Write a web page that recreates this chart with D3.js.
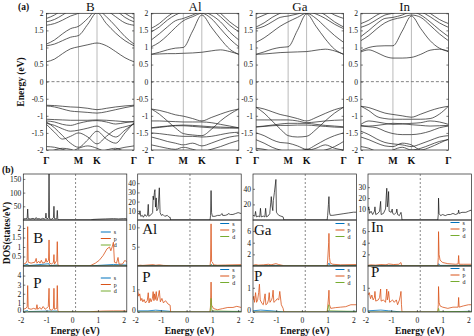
<!DOCTYPE html>
<html><head><meta charset="utf-8">
<script src="https://cdn.jsdelivr.net/npm/d3@7"></script>
<style>
body{margin:0;background:#fff}
svg{display:block}
text{font-family:"Liberation Serif","Times New Roman",serif;fill:#111}
</style>
</head><body>
<svg id="c" width="474" height="336"></svg>
<script>
// ---------------- DATA ----------------
const kPath = [0, 0.25, 0.5, 0.75, 1.0, 1.29, 1.577, 1.87, 2.16, 2.45, 2.732];
const kLabels = ["Γ", "M", "K", "Γ"];
const kLabelPos = [0, 1.0, 1.577, 2.732];
const materials = ["B", "Al", "Ga", "In"];
const bandTicks = [2, 1.5, 1, 0.5, 0, -0.5, -1, -1.5, -2];
const dosXTicks = [-2, -1, 0, 1, 2];
const fermiDOS = 0.13;

const bandsB = [
  [0.58, 0.66, 0.82, 0.96, 1.02, 1.08, 1.13, 1.05, 0.88, 0.70, 0.58],
  [1.05, 1.10, 1.20, 1.30, 1.35, 1.68, 2.02, 1.70, 1.42, 1.20, 1.05],
  [1.10, 1.22, 1.40, 1.55, 1.62, 1.85, 2.10, 1.90, 1.62, 1.32, 1.10],
  [1.65, 1.70, 1.80, 1.92, 2.00, 2.15, 2.30, 2.10, 1.90, 1.72, 1.65],
  [1.75, 1.82, 1.95, 2.10, 2.20, 2.30, 2.40, 2.30, 2.10, 1.88, 1.75],
  [1.85, 1.95, 2.10, 2.20, 2.30, 2.40, 2.50, 2.40, 2.20, 2.00, 1.85],
  [-0.69, -0.70, -0.72, -0.74, -0.75, -0.78, -0.82, -0.78, -0.74, -0.71, -0.69],
  [-0.71, -0.74, -0.80, -0.86, -0.88, -0.90, -0.92, -0.88, -0.82, -0.76, -0.71],
  [-1.10, -1.11, -1.12, -1.13, -1.13, -1.13, -1.12, -1.13, -1.15, -1.17, -1.18],
  [-1.15, -1.18, -1.25, -1.28, -1.22, -1.16, -1.14, -1.18, -1.24, -1.20, -1.16],
  [-1.18, -1.35, -1.58, -1.80, -1.92, -1.70, -1.45, -1.68, -1.80, -1.50, -1.20],
  [-1.22, -1.28, -1.38, -1.45, -1.42, -1.36, -1.30, -1.48, -1.62, -1.42, -1.22],
  [-1.25, -1.48, -1.68, -1.60, -1.50, -1.62, -1.82, -1.60, -1.40, -1.32, -1.25],
  [-1.90, -1.92, -1.98, -2.05, -1.95, -1.88, -1.95, -2.05, -1.98, -1.92, -1.88],
  [-2.10, -2.00, -1.95, -1.98, -2.10, -2.20, -2.10, -2.00, -1.95, -2.05, -2.10]
];
const bandsAl = [
  [0.80, 0.81, 0.82, 0.82, 0.83, 0.84, 0.86, 0.90, 0.93, 0.88, 0.80],
  [0.80, 0.86, 0.93, 0.98, 1.00, 1.48, 1.95, 1.60, 1.25, 0.95, 0.80],
  [1.02, 1.15, 1.35, 1.58, 1.78, 1.90, 2.00, 1.85, 1.55, 1.25, 1.02],
  [1.22, 1.40, 1.60, 1.78, 1.85, 1.95, 2.05, 1.95, 1.75, 1.45, 1.22],
  [1.46, 1.60, 1.80, 1.95, 2.05, 2.15, 2.20, 2.10, 1.90, 1.65, 1.46],
  [1.56, 1.70, 1.90, 2.05, 2.15, 2.20, 2.30, 2.20, 2.00, 1.75, 1.56],
  [-0.80, -0.84, -0.90, -0.97, -1.01, -1.08, -1.15, -1.05, -0.95, -0.86, -0.80],
  [-0.80, -0.95, -1.15, -1.35, -1.52, -1.56, -1.58, -1.40, -1.15, -0.95, -0.80],
  [-1.15, -1.15, -1.16, -1.17, -1.18, -1.18, -1.18, -1.20, -1.25, -1.30, -1.35],
  [-1.35, -1.32, -1.30, -1.28, -1.27, -1.28, -1.30, -1.32, -1.33, -1.34, -1.35],
  [-1.36, -1.34, -1.31, -1.29, -1.29, -1.31, -1.33, -1.35, -1.36, -1.36, -1.36],
  [-1.50, -1.52, -1.55, -1.58, -1.60, -1.60, -1.62, -1.60, -1.55, -1.50, -1.48],
  [-1.62, -1.68, -1.75, -1.80, -1.85, -1.80, -1.88, -1.80, -1.70, -1.62, -1.58],
  [-1.85, -1.90, -1.95, -1.98, -1.92, -1.98, -2.05, -1.98, -1.90, -1.80, -1.72]
];
const bandsGa = [
  [0.80, 0.81, 0.83, 0.85, 0.86, 0.87, 0.88, 0.92, 0.95, 0.90, 0.80],
  [0.80, 0.87, 0.95, 1.00, 1.02, 1.50, 1.98, 1.62, 1.25, 0.95, 0.80],
  [1.15, 1.28, 1.45, 1.62, 1.75, 1.88, 2.00, 1.85, 1.60, 1.35, 1.15],
  [1.55, 1.62, 1.75, 1.88, 1.92, 1.98, 2.05, 1.98, 1.85, 1.68, 1.55],
  [1.60, 1.72, 1.88, 2.00, 2.10, 2.15, 2.20, 2.10, 1.95, 1.75, 1.60],
  [1.85, 1.95, 2.05, 2.15, 2.20, 2.25, 2.30, 2.20, 2.10, 1.95, 1.85],
  [-0.75, -0.80, -0.88, -0.96, -1.01, -1.08, -1.15, -1.05, -0.93, -0.82, -0.75],
  [-0.75, -0.92, -1.15, -1.38, -1.58, -1.62, -1.60, -1.40, -1.15, -0.92, -0.75],
  [-1.12, -1.12, -1.12, -1.12, -1.12, -1.15, -1.20, -1.18, -1.15, -1.13, -1.12],
  [-1.32, -1.30, -1.27, -1.24, -1.22, -1.22, -1.22, -1.25, -1.28, -1.30, -1.32],
  [-1.33, -1.31, -1.29, -1.28, -1.28, -1.27, -1.27, -1.29, -1.31, -1.33, -1.34],
  [-1.50, -1.58, -1.70, -1.78, -1.80, -1.88, -1.98, -1.85, -1.70, -1.58, -1.50],
  [-1.70, -1.80, -1.92, -2.00, -2.05, -2.05, -1.98, -2.05, -2.00, -1.90, -1.75],
  [-1.95, -1.98, -2.05, -2.10, -2.10, -2.05, -2.02, -1.95, -1.85, -1.95, -2.00]
];
const bandsIn = [
  [0.87, 0.93, 0.85, 0.74, 0.69, 0.69, 0.71, 0.80, 0.92, 0.95, 0.87],
  [0.90, 1.00, 1.04, 1.05, 1.05, 1.48, 1.92, 1.55, 1.20, 0.98, 0.90],
  [1.20, 1.35, 1.55, 1.72, 1.82, 1.88, 1.95, 1.88, 1.65, 1.40, 1.20],
  [1.32, 1.50, 1.70, 1.85, 1.88, 1.95, 2.05, 1.95, 1.75, 1.52, 1.32],
  [1.59, 1.68, 1.82, 1.95, 2.00, 2.10, 2.15, 2.05, 1.90, 1.72, 1.59],
  [1.70, 1.80, 1.95, 2.05, 2.10, 2.20, 2.25, 2.15, 2.00, 1.82, 1.70],
  [-0.72, -0.76, -0.84, -0.92, -0.96, -1.00, -1.04, -0.95, -0.85, -0.77, -0.72],
  [-0.72, -0.85, -1.02, -1.08, -1.10, -1.10, -1.10, -1.10, -1.08, -0.95, -0.72],
  [-1.25, -1.15, -1.18, -1.22, -1.25, -1.24, -1.22, -1.20, -1.15, -1.18, -1.25],
  [-1.28, -1.30, -1.28, -1.25, -1.22, -1.23, -1.26, -1.28, -1.30, -1.29, -1.28],
  [-1.30, -1.32, -1.35, -1.45, -1.52, -1.55, -1.55, -1.52, -1.45, -1.35, -1.30],
  [-1.45, -1.55, -1.68, -1.78, -1.82, -1.85, -1.90, -1.82, -1.72, -1.62, -1.58],
  [-1.62, -1.70, -1.80, -1.88, -1.90, -1.80, -1.85, -2.00, -1.92, -1.80, -1.68],
  [-1.90, -1.95, -2.05, -2.10, -2.00, -1.92, -2.00, -1.95, -1.85, -1.75, -1.70]
];

// DOS: [energy (eV), states/eV]
const dosTotB = [[-1.9,4],[-1.82,5],[-1.75,6],[-1.73,40],[-1.71,5],[-1.62,4],[-1.52,6],[-1.45,3],[-1.4,9],[-1.37,4],[-1.28,5],[-1.22,3],[-1.15,6],[-1.08,4],[-1.04,7],[-1.02,25],[-1.0,6],[-0.94,5],[-0.92,8],[-0.9,170],[-0.88,4],[-0.8,3],[-0.73,8],[-0.71,50],[-0.69,5],[-0.62,4],[-0.6,8],[-0.58,35],[-0.56,3],[-0.52,0],[0.72,0],[0.8,2],[1.0,3],[1.3,4],[1.6,5],[1.8,4],[2.0,5],[2.12,5]];
const dosBs = [[-1.9,0.02],[-1.73,0.1],[-1.7,0.02],[-0.9,0.12],[-0.88,0.02],[-0.58,0.05],[-0.52,0],[0.7,0],[1.0,0.03],[1.6,0.08],[2.12,0.05]];
const dosBp = [[-1.9,0.1],[-1.8,0.15],[-1.75,0.3],[-1.73,2.07],[-1.71,0.2],[-1.6,0.15],[-1.45,0.2],[-1.4,0.4],[-1.37,0.15],[-1.3,0.25],[-1.25,0.15],[-1.2,0.3],[-1.15,0.15],[-1.05,0.2],[-1.02,0.4],[-0.98,0.2],[-0.92,0.3],[-0.9,1.37],[-0.88,0.15],[-0.8,0.1],[-0.73,0.2],[-0.71,0.6],[-0.69,0.1],[-0.6,0.3],[-0.58,1.28],[-0.56,0.1],[-0.52,0],[0.66,0],[0.75,0.05],[0.9,0.15],[1.05,0.3],[1.2,0.55],[1.35,0.9],[1.45,1.0],[1.5,0.8],[1.55,1.0],[1.6,1.25],[1.64,0.2],[1.72,0.15],[1.78,0.45],[1.82,0.1],[1.95,0.1],[2.05,0.3],[2.12,0.2]];
const dosBd = [[-1.9,0.005],[2.12,0.005]];
const dosPsB = [[-1.9,0.05],[-1.73,0.15],[-1.7,0.05],[-0.9,0.1],[-0.58,0.1],[-0.52,0],[0.7,0],[2.12,0.02]];
const dosPpB = [[-1.9,0.3],[-1.8,0.4],[-1.75,0.6],[-1.73,2.9],[-1.71,0.4],[-1.6,0.3],[-1.5,0.4],[-1.4,0.3],[-1.37,0.8],[-1.34,0.3],[-1.25,0.5],[-1.2,0.3],[-1.13,0.6],[-1.05,0.3],[-1.0,0.4],[-0.93,0.6],[-0.9,2.6],[-0.88,0.3],[-0.8,0.2],[-0.73,0.4],[-0.71,2.6],[-0.69,0.3],[-0.6,0.4],[-0.58,2.9],[-0.56,0.2],[-0.52,0],[0.66,0],[0.8,0.05],[1.2,0.1],[1.6,0.12],[2.0,0.12],[2.12,0.1]];
const dosPdB = [[-1.9,0.01],[2.12,0.01]];

const dosTotAl = [[-1.9,8],[-1.84,6],[-1.81,10],[-1.78,4],[-1.72,5],[-1.68,3],[-1.62,6],[-1.57,4],[-1.52,5],[-1.49,17],[-1.47,4],[-1.42,5],[-1.37,6],[-1.32,8],[-1.3,26],[-1.28,22],[-1.25,30],[-1.23,33],[-1.21,14],[-1.18,24],[-1.16,10],[-1.11,12],[-1.06,35],[-1.03,8],[-0.98,5],[-0.92,6],[-0.85,4],[-0.75,5],[-0.68,3],[-0.64,3],[-0.62,0],[0.91,0],[0.93,5],[0.95,32],[0.97,8],[1.0,4],[1.1,4],[1.2,5],[1.3,5],[1.38,7],[1.4,5],[1.5,5],[1.6,6],[1.62,7],[1.7,6],[1.8,6],[1.9,7],[2.0,8],[2.12,7]];
const dosAls = [[-1.9,0.02],[-1.3,0.1],[-0.62,0],[0.92,0],[0.95,0.4],[1.0,0.1],[2.12,0.1]];
const dosAlp = [[-1.9,0.1],[-1.8,0.2],[-1.7,0.15],[-1.5,0.25],[-1.3,0.35],[-1.2,0.2],[-1.06,0.3],[-0.9,0.15],[-0.7,0.1],[-0.62,0],[0.91,0],[0.93,1.5],[0.95,10.9],[0.97,1.2],[1.0,1.0],[1.05,0.3],[1.2,0.2],[1.5,0.25],[1.8,0.3],[2.12,0.35]];
const dosAld = [[-1.9,0],[0.92,0],[0.95,0.3],[1.0,0.05],[2.12,0.05]];
const dosPsAl = [[-1.9,0.05],[-1.5,0.05],[-1.2,0.08],[-0.64,0.03],[-0.62,0],[0.92,0],[2.12,0.03]];
const dosPpAl = [[-1.9,0.95],[-1.86,0.7],[-1.82,0.8],[-1.78,0.5],[-1.74,0.6],[-1.7,0.45],[-1.65,0.55],[-1.6,0.4],[-1.53,0.5],[-1.49,0.85],[-1.46,0.4],[-1.42,0.6],[-1.38,0.45],[-1.33,0.6],[-1.3,0.9],[-1.27,0.5],[-1.25,0.8],[-1.22,0.55],[-1.18,0.9],[-1.15,0.5],[-1.1,0.7],[-1.06,0.95],[-1.02,0.45],[-0.96,0.6],[-0.9,0.4],[-0.82,0.5],[-0.72,0.35],[-0.64,0.3],[-0.62,0],[0.91,0],[0.93,0.3],[0.95,1.32],[0.97,0.3],[1.05,0.15],[1.2,0.1],[1.4,0.15],[1.6,0.2],[1.8,0.2],[1.95,0.25],[2.12,0.2]];
const dosPdAl = [[-1.9,0],[0.91,0],[0.93,0.2],[0.95,0.6],[0.98,0.05],[2.12,0.02]];

const dosTotGa = [[-1.9,6],[-1.83,5],[-1.8,11],[-1.77,4],[-1.7,5],[-1.64,4],[-1.61,15],[-1.58,4],[-1.5,5],[-1.44,4],[-1.41,15],[-1.38,4],[-1.32,5],[-1.25,8],[-1.21,22],[-1.19,30],[-1.16,18],[-1.13,12],[-1.11,25],[-1.07,35],[-1.01,52],[-0.99,10],[-0.95,8],[-0.9,6],[-0.82,5],[-0.73,4],[-0.7,0],[0.98,0],[1.0,6],[1.03,20],[1.05,30],[1.07,10],[1.1,6],[1.2,6],[1.4,7],[1.6,8],[1.8,9],[2.0,10],[2.12,10]];
const dosGas = [[-1.9,0.02],[-1.01,0.1],[-0.7,0],[0.98,0],[1.05,0.5],[1.1,0.1],[2.12,0.1]];
const dosGap = [[-1.9,0.1],[-1.8,0.25],[-1.7,0.15],[-1.5,0.2],[-1.3,0.3],[-1.2,0.2],[-1.01,0.4],[-0.9,0.25],[-0.75,0.1],[-0.7,0],[0.98,0],[1.0,1.0],[1.04,4.0],[1.05,5.6],[1.07,1.5],[1.1,0.5],[1.2,0.3],[1.5,0.2],[2.12,0.25]];
const dosGad = [[-1.9,0],[2.12,0.02]];
const dosPsGa = [[-1.9,0.05],[-1.6,0.08],[-1.2,0.05],[-0.7,0],[0.98,0],[2.12,0.03]];
const dosPpGa = [[-1.9,0.5],[-1.87,0.65],[-1.84,0.4],[-1.8,0.8],[-1.76,0.4],[-1.72,0.5],[-1.68,0.8],[-1.65,1.15],[-1.62,0.5],[-1.55,0.35],[-1.5,0.3],[-1.43,0.75],[-1.4,0.3],[-1.34,0.35],[-1.3,0.5],[-1.27,0.8],[-1.24,0.4],[-1.18,0.5],[-1.15,0.6],[-1.12,0.9],[-1.09,0.4],[-1.03,0.45],[-0.96,0.55],[-0.9,0.5],[-0.86,0.85],[-0.8,0.3],[-0.73,0.15],[-0.7,0],[0.98,0],[1.0,0.2],[1.04,0.7],[1.05,0.9],[1.07,0.3],[1.12,0.15],[1.3,0.18],[1.5,0.2],[1.7,0.22],[1.9,0.3],[2.12,0.3]];
const dosPdGa = [[-1.9,0],[0.98,0],[1.04,0.3],[1.07,0.05],[2.12,0.02]];

const dosTotIn = [[-1.9,10],[-1.87,12],[-1.84,6],[-1.78,8],[-1.72,5],[-1.65,8],[-1.63,12],[-1.6,5],[-1.52,6],[-1.45,8],[-1.41,17],[-1.39,5],[-1.3,6],[-1.22,10],[-1.19,22],[-1.17,29],[-1.15,12],[-1.12,18],[-1.1,26],[-1.08,8],[-1.0,7],[-0.96,10],[-0.94,6],[-0.88,5],[-0.8,7],[-0.78,10],[-0.75,5],[-0.68,4],[-0.62,7],[-0.6,5],[-0.58,0],[0.81,0],[0.83,5],[0.84,20],[0.86,6],[0.92,4],[1.0,5],[1.1,4],[1.2,5],[1.3,5],[1.4,6],[1.5,5],[1.6,6],[1.62,9],[1.64,6],[1.75,7],[1.9,7],[2.0,8],[2.1,9],[2.12,8]];
const dosIns = [[-1.9,0.02],[-1.17,0.1],[-0.58,0],[0.81,0],[0.84,0.4],[0.9,0.1],[2.12,0.1]];
const dosInp = [[-1.9,0.1],[-1.8,0.2],[-1.6,0.15],[-1.4,0.25],[-1.2,0.2],[-1.1,0.35],[-0.9,0.25],[-0.7,0.3],[-0.62,0.6],[-0.6,0.2],[-0.58,0],[0.81,0],[0.83,1.5],[0.84,5.9],[0.86,2.0],[0.9,1.0],[1.0,0.6],[1.2,0.4],[1.5,0.3],[1.6,0.35],[1.62,1.8],[1.64,0.3],[1.8,0.3],[2.12,0.3]];
const dosInd = [[-1.9,0],[2.12,0.02]];
const dosPsIn = [[-1.9,0.05],[-1.4,0.08],[-1.1,0.05],[-0.58,0],[0.81,0],[2.12,0.03]];
const dosPpIn = [[-1.9,0.7],[-1.85,0.8],[-1.8,0.55],[-1.75,0.7],[-1.7,0.5],[-1.65,0.6],[-1.63,0.85],[-1.6,0.45],[-1.5,0.5],[-1.45,0.6],[-1.41,0.95],[-1.39,0.45],[-1.3,0.5],[-1.22,0.4],[-1.19,0.7],[-1.17,0.95],[-1.15,0.5],[-1.12,0.65],[-1.1,0.85],[-1.06,0.4],[-1.0,0.45],[-0.95,0.5],[-0.88,0.4],[-0.8,0.5],[-0.75,0.3],[-0.68,0.5],[-0.64,0.7],[-0.62,0.85],[-0.6,0.3],[-0.58,0],[0.81,0],[0.83,0.3],[0.84,1.05],[0.86,0.4],[0.9,0.25],[1.0,0.2],[1.2,0.15],[1.4,0.2],[1.6,0.2],[1.62,0.6],[1.64,0.2],[1.8,0.25],[2.0,0.3],[2.12,0.3]];
const dosPdIn = [[-1.9,0],[0.81,0],[0.84,0.15],[0.87,0.02],[2.12,0.02]];

const dosYMax = [[168, 2.42, 5.05], [50, 11.9, 2.03], [59, 7.9, 1.9], [42, 7.9, 1.9]];
const dosYTicks = [
  [[50, 100, 150], [0.5, 1, 1.5, 2], [0, 1, 2, 3, 4]],
  [[10, 20, 30, 40], [5, 10], [0, 1]],
  [[20, 40], [2, 4, 6], [0, 1]],
  [[10, 20, 30], [2, 4, 6], [0, 1]]
];
const orbitals = ["s", "p", "d"];
const orbColors = ["#0072BD", "#D95319", "#77AC30"];

// ---------------- LAYOUT ----------------
const svg = d3.select("#c");
const bandSets = [bandsB, bandsAl, bandsGa, bandsIn];
const bandL0 = 46.5, bandStep = 104.8, bandW = 87.5, bandTop = 13.3, bandBot = 150;

svg.append("text").attr("x", 18).attr("y", 10).attr("font-size", 9.5).attr("font-weight", "bold").text("(a)");
svg.append("text").attr("x", 2).attr("y", 173).attr("font-size", 9.5).attr("font-weight", "bold").text("(b)");
svg.append("text").attr("transform", "translate(24,82) rotate(-90)").attr("text-anchor", "middle")
  .attr("font-size", 9.5).attr("font-weight", "bold").text("Energy (eV)");
svg.append("text").attr("transform", "translate(10,233) rotate(-90)").attr("text-anchor", "middle")
  .attr("font-size", 9.5).attr("font-weight", "bold").text("DOS(states/eV)");

materials.forEach((m, i) => {
  const L = bandL0 + i * bandStep;
  const x = d3.scaleLinear().domain([0, 2.732]).range([L, L + bandW]);
  const y = d3.scaleLinear().domain([-2, 2]).range([bandBot, bandTop]);
  const g = svg.append("g");
  const cid = "bc" + i;
  svg.append("clipPath").attr("id", cid).append("rect")
    .attr("x", L).attr("y", bandTop).attr("width", bandW).attr("height", bandBot - bandTop);
  [kLabelPos[1], kLabelPos[2]].forEach(k => g.append("line")
    .attr("x1", x(k)).attr("x2", x(k)).attr("y1", bandTop).attr("y2", bandBot)
    .attr("stroke", "#a8a8a8").attr("stroke-width", 0.8));
  g.append("line").attr("x1", L).attr("x2", L + bandW).attr("y1", y(0)).attr("y2", y(0))
    .attr("stroke", "#777").attr("stroke-width", 0.9).attr("stroke-dasharray", "3,2");
  const line = d3.line().x((d, j) => x(kPath[j])).y(d => y(d)).curve(d3.curveMonotoneX);
  g.append("g").attr("clip-path", `url(#${cid})`).selectAll("path").data(bandSets[i]).join("path")
    .attr("d", line).attr("fill", "none").attr("stroke", "#2b2b2b").attr("stroke-width", 0.75);
  g.append("rect").attr("x", L).attr("y", bandTop).attr("width", bandW).attr("height", bandBot - bandTop)
    .attr("fill", "none").attr("stroke", "#222").attr("stroke-width", 0.7);
  const ax = g.append("g").attr("transform", `translate(${L},0)`)
    .call(d3.axisLeft(y).tickValues(bandTicks).tickFormat(d => String(d)).tickSizeInner(-2).tickSizeOuter(0).tickPadding(3));
  ax.select(".domain").remove();
  ax.selectAll("text").attr("font-size", 7.5).attr("font-family", "Liberation Serif").attr("fill", "#222");
  ax.selectAll("line").attr("stroke", "#222").attr("stroke-width", 0.6);
  const axr = g.append("g").attr("transform", `translate(${L + bandW},0)`)
    .call(d3.axisRight(y).tickValues(bandTicks).tickFormat("").tickSizeInner(-2).tickSizeOuter(0));
  axr.select(".domain").remove();
  axr.selectAll("line").attr("stroke", "#222").attr("stroke-width", 0.6);
  kLabels.forEach((lab, j) => g.append("text").attr("x", x(kLabelPos[j])).attr("y", 163.5)
    .attr("text-anchor", "middle").attr("font-size", 10).attr("font-weight", "bold").text(lab));
  g.append("text").attr("x", L + bandW / 2).attr("y", 10.5).attr("text-anchor", "middle")
    .attr("font-size", 13).text(m);
});

// ---------------- DOS ----------------
const dosSets = [
  { tot: dosTotB, atom: [dosBs, dosBp, dosBd], P: [dosPsB, dosPpB, dosPdB] },
  { tot: dosTotAl, atom: [dosAls, dosAlp, dosAld], P: [dosPsAl, dosPpAl, dosPdAl] },
  { tot: dosTotGa, atom: [dosGas, dosGap, dosGad], P: [dosPsGa, dosPpGa, dosPdGa] },
  { tot: dosTotIn, atom: [dosIns, dosInp, dosInd], P: [dosPsIn, dosPpIn, dosPdIn] }
];
const dosLefts = [23.3, 137.7, 253, 368];
const dosW = 103.5, rowTops = [174, 220, 266], rowH = 46;
const legDy = [12, 3.5, 3.5, 2.5];
const legLine = [[-26, -16, -13], [-21, -12, -9], [-21, -12, -9], [-21, -12, -9]];
const labPos = [[10, 23, 22], [4.5, 14, 15.5], [1, 15, 14.5], [3, 11.5, 11]];
const xDom = [-1.9, 2.12];

dosSets.forEach((ds, c) => {
  const L = dosLefts[c];
  const x = d3.scaleLinear().domain(xDom).range([L, L + dosW]);
  const g = svg.append("g");
  [0, 1, 2].forEach(r => {
    const T = rowTops[r];
    const y = d3.scaleLinear().domain([0, dosYMax[c][r]]).range([T + rowH, T]);
    const cid = `dc${c}_${r}`;
    svg.append("clipPath").attr("id", cid).append("rect")
      .attr("x", L).attr("y", T).attr("width", dosW).attr("height", rowH);
    const line = d3.line().x(d => x(d[0])).y(d => y(d[1]));
    const cg = g.append("g").attr("clip-path", `url(#${cid})`);
    if (r === 0) {
      cg.append("path").attr("d", line(ds.tot)).attr("fill", "none").attr("stroke", "#111").attr("stroke-width", 0.7);
    } else {
      const curves = r === 1 ? ds.atom : ds.P;
      [0, 1, 2].forEach(o => cg.append("path").attr("d", line(curves[o])).attr("fill", "none")
        .attr("stroke", orbColors[o]).attr("stroke-width", 0.8));
      const ll = legLine[c];
      orbitals.forEach((o, k) => {
        const yy = T + legDy[c] + k * 6.5;
        g.append("line").attr("x1", L + dosW + ll[0]).attr("x2", L + dosW + ll[1])
          .attr("y1", yy).attr("y2", yy).attr("stroke", orbColors[k]).attr("stroke-width", 1);
        g.append("text").attr("x", L + dosW + ll[2]).attr("y", yy + 2).attr("font-size", 6).text(o);
      });
      g.append("text").attr("x", L + labPos[c][0]).attr("y", T + labPos[c][r])
        .attr("font-size", 15).text(r === 1 ? materials[c] : "P");
    }
    g.append("rect").attr("x", L).attr("y", T).attr("width", dosW).attr("height", rowH)
      .attr("fill", "none").attr("stroke", "#222").attr("stroke-width", 0.7);
    const ay = g.append("g").attr("transform", `translate(${L},0)`)
      .call(d3.axisLeft(y).tickValues(dosYTicks[c][r]).tickFormat(d => String(d)).tickSizeInner(-2).tickSizeOuter(0).tickPadding(2));
    ay.select(".domain").remove();
    ay.selectAll("text").attr("font-size", 7.5).attr("font-family", "Liberation Serif").attr("fill", "#222");
    ay.selectAll("line").attr("stroke", "#222").attr("stroke-width", 0.6);
    if (r === 2) ay.selectAll(".tick").filter(d => d === 0).select("text").attr("dy", "0.1em");
  });
  g.append("line").attr("x1", x(fermiDOS)).attr("x2", x(fermiDOS)).attr("y1", rowTops[0]).attr("y2", rowTops[2] + rowH)
    .attr("stroke", "#555").attr("stroke-width", 0.7).attr("stroke-dasharray", "2,2");
  const axb = g.append("g").attr("transform", `translate(0,${rowTops[2] + rowH})`)
    .call(d3.axisBottom(x).tickValues(dosXTicks).tickFormat(d => String(d)).tickSizeInner(-2).tickSizeOuter(0).tickPadding(6));
  axb.select(".domain").remove();
  axb.selectAll(".tick").filter(d => d < xDom[0]).select("line").remove();
  axb.selectAll("text").attr("font-size", 7.5).attr("font-family", "Liberation Serif").attr("fill", "#222");
  axb.selectAll("line").attr("stroke", "#222").attr("stroke-width", 0.6);
  g.append("text").attr("x", L + dosW / 2).attr("y", 333.5).attr("text-anchor", "middle")
    .attr("font-size", 9.5).attr("font-weight", "bold").text("Energy (eV)");
});
</script>
</body></html>
